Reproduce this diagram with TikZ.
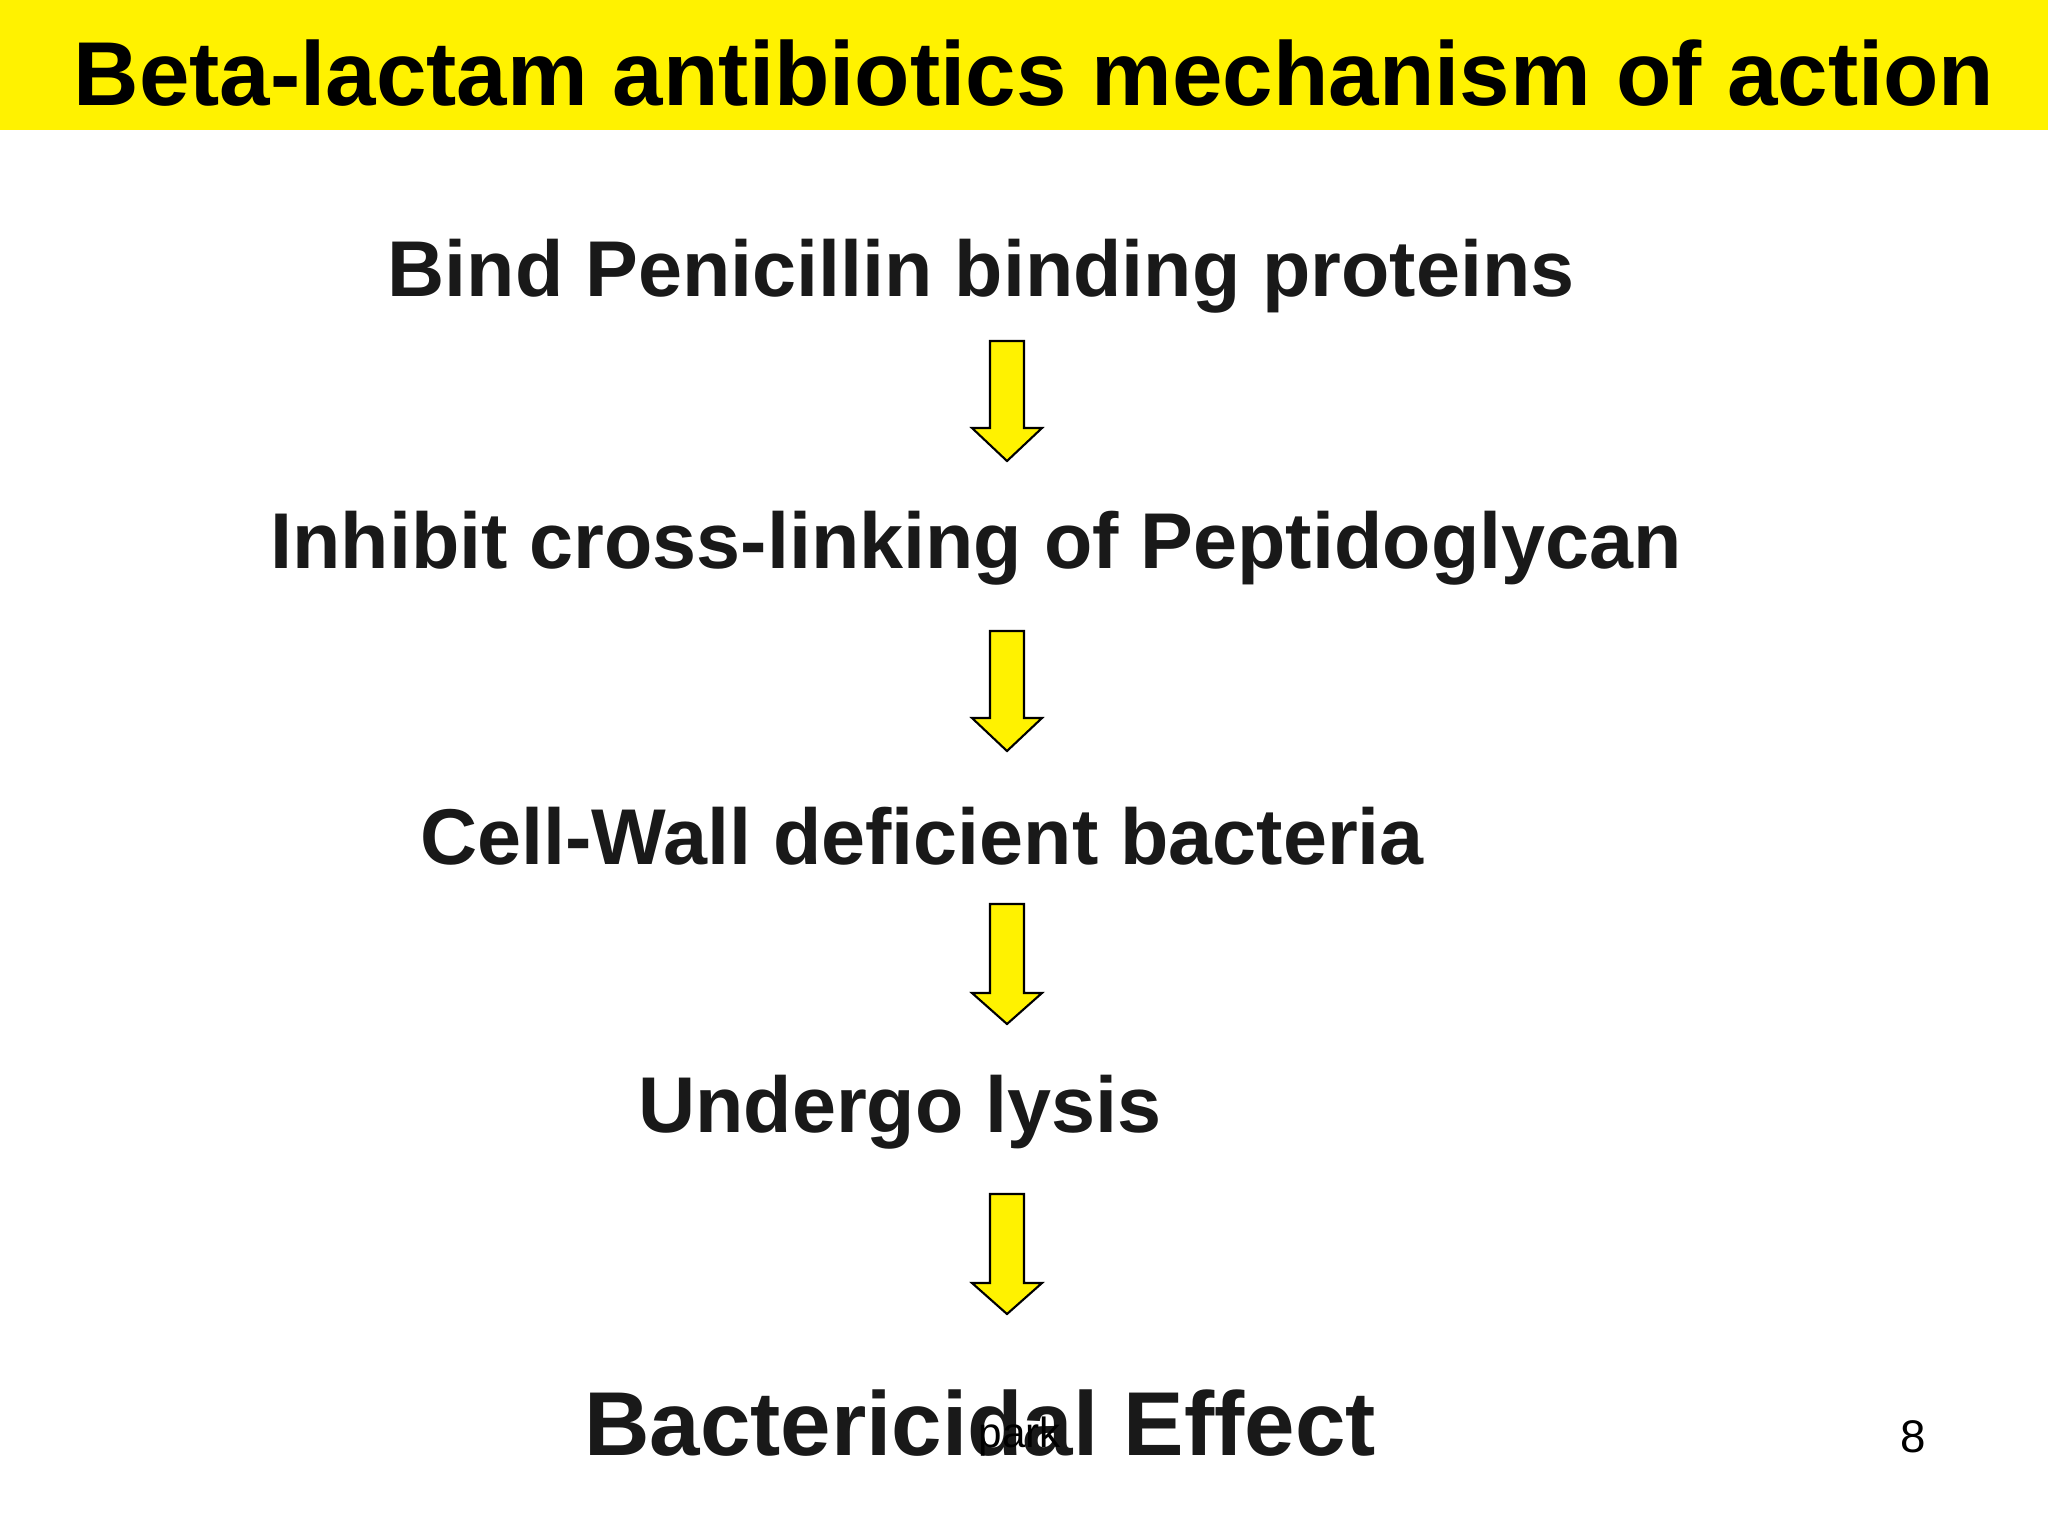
\documentclass[tikz,border=0pt]{standalone}
\usepackage{fontspec}
\setmainfont{Liberation Sans}
\begin{document}
\begin{tikzpicture}[x=0.01cm,y=-0.01cm,
  step text/.style={font=\fontsize{22.5}{27}\selectfont\bfseries, text=black!90, inner sep=0pt},
  flowarrow/.style={draw=black, fill=yellow, line width=0.6pt}]
\useasboundingbox (0,0) rectangle (2048,1536);
\fill[white] (0,0) rectangle (2048,1536);
\fill[yellow] (0,0) rectangle (2048,130);
\node[font=\fontsize{25.8}{30}\selectfont\bfseries, inner sep=0pt] (title) at (1034,73) {Beta-lactam antibiotics mechanism of action};
\node[step text] (s1) at (981,276) {Bind Penicillin binding proteins};
\node[step text] (s2) at (976,548) {Inhibit cross-linking of Peptidoglycan};
\node[step text] (s3) at (922,836) {Cell-Wall deficient bacteria};
\node[step text] (s4) at (900,1112) {Undergo lysis};
\node[step text, font=\fontsize{25.8}{31}\selectfont\bfseries] (s5) at (980,1423) {Bactericidal Effect};
\node[font=\fontsize{12}{14}\selectfont, inner sep=0pt] (park) at (1020,1437) {park};
\node[font=\fontsize{13}{15}\selectfont, inner sep=0pt] (num) at (1913,1437) {8};
\foreach \t/\m/\b in {341/428/461, 631/718/751, 904/993/1024, 1194/1283/1314}{
  \draw[flowarrow] (990,\t) -- (1024,\t) -- (1024,\m) -- (1042,\m) -- (1007,\b) -- (972,\m) -- (990,\m) -- cycle;
}
\end{tikzpicture}
\end{document}
